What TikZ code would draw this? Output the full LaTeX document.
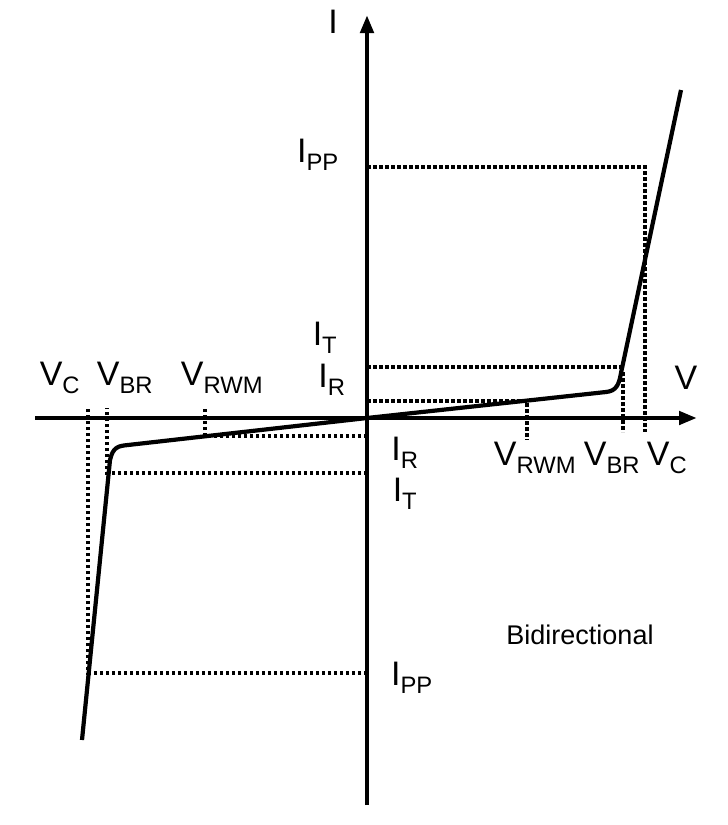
\documentclass[tikz,border=0pt]{standalone}
\usepackage{fontspec}
\setmainfont{Liberation Sans}
\usetikzlibrary{arrows.meta}
\begin{document}
\begin{tikzpicture}[x=1pt,y=-1pt,
  axis/.style={line width=4.5pt,-{Triangle[length=18pt,width=13pt]}},
  curve/.style={line width=4.2pt,line join=round},
  dot/.style={line width=3.6pt,dash pattern=on 3.5pt off 2.5pt},
  lab/.style={font=\fontsize{34}{34}\selectfont,inner sep=0pt}]
\useasboundingbox (0,0) rectangle (728,825);
\coordinate (O) at (367,418);
\coordinate (xl) at (35,418); \coordinate (xr) at (697,418);
\coordinate (yb) at (367,805); \coordinate (yt) at (367,15);
\draw[axis] (xl) -- (xr);
\draw[axis] (yb) -- (yt);
\node[lab] (Ilab) at (333,22) {I};
\node[lab] (Vlab) at (686,378) {V};
% dotted guides
\draw[dot] (367,167) -- (645,167) -- (645,432);
\draw[dot] (367,367) -- (623,367);
\draw[dot] (623,372) -- (623,432);
\draw[dot] (367,401) -- (527,401) -- (527,440);
\draw[dot] (367,436) -- (205,436) -- (205,408);
\draw[dot] (367,473) -- (107,473) -- (107,408);
\draw[dot] (367,673) -- (88,673) -- (88,408);
% curve
\draw[curve] (82,740) -- (110,460) .. controls (113,447) and (118,446) .. (128,445) -- (O) -- (606,392) .. controls (616,391) and (619,385) .. (621,373) -- (681,90);
% labels
\node[lab] at (60,378) {V\textsubscript{C}};
\node[lab] at (125,378) {V\textsubscript{BR}};
\node[lab] at (222,378) {V\textsubscript{RWM}};
\node[lab] at (332,380) {I\textsubscript{R}};
\node[lab] at (325,338) {I\textsubscript{T}};
\node[lab] at (318,155) {I\textsubscript{PP}};
\node[lab] at (405,453) {I\textsubscript{R}};
\node[lab] at (405,494) {I\textsubscript{T}};
\node[lab] at (535,458) {V\textsubscript{RWM}};
\node[lab] at (612,458) {V\textsubscript{BR}};
\node[lab] at (667,458) {V\textsubscript{C}};
\node[lab] at (412,678) {I\textsubscript{PP}};
\node[lab,font=\fontsize{27}{27}\selectfont] at (580,635) {Bidirectional};
\end{tikzpicture}
\end{document}
